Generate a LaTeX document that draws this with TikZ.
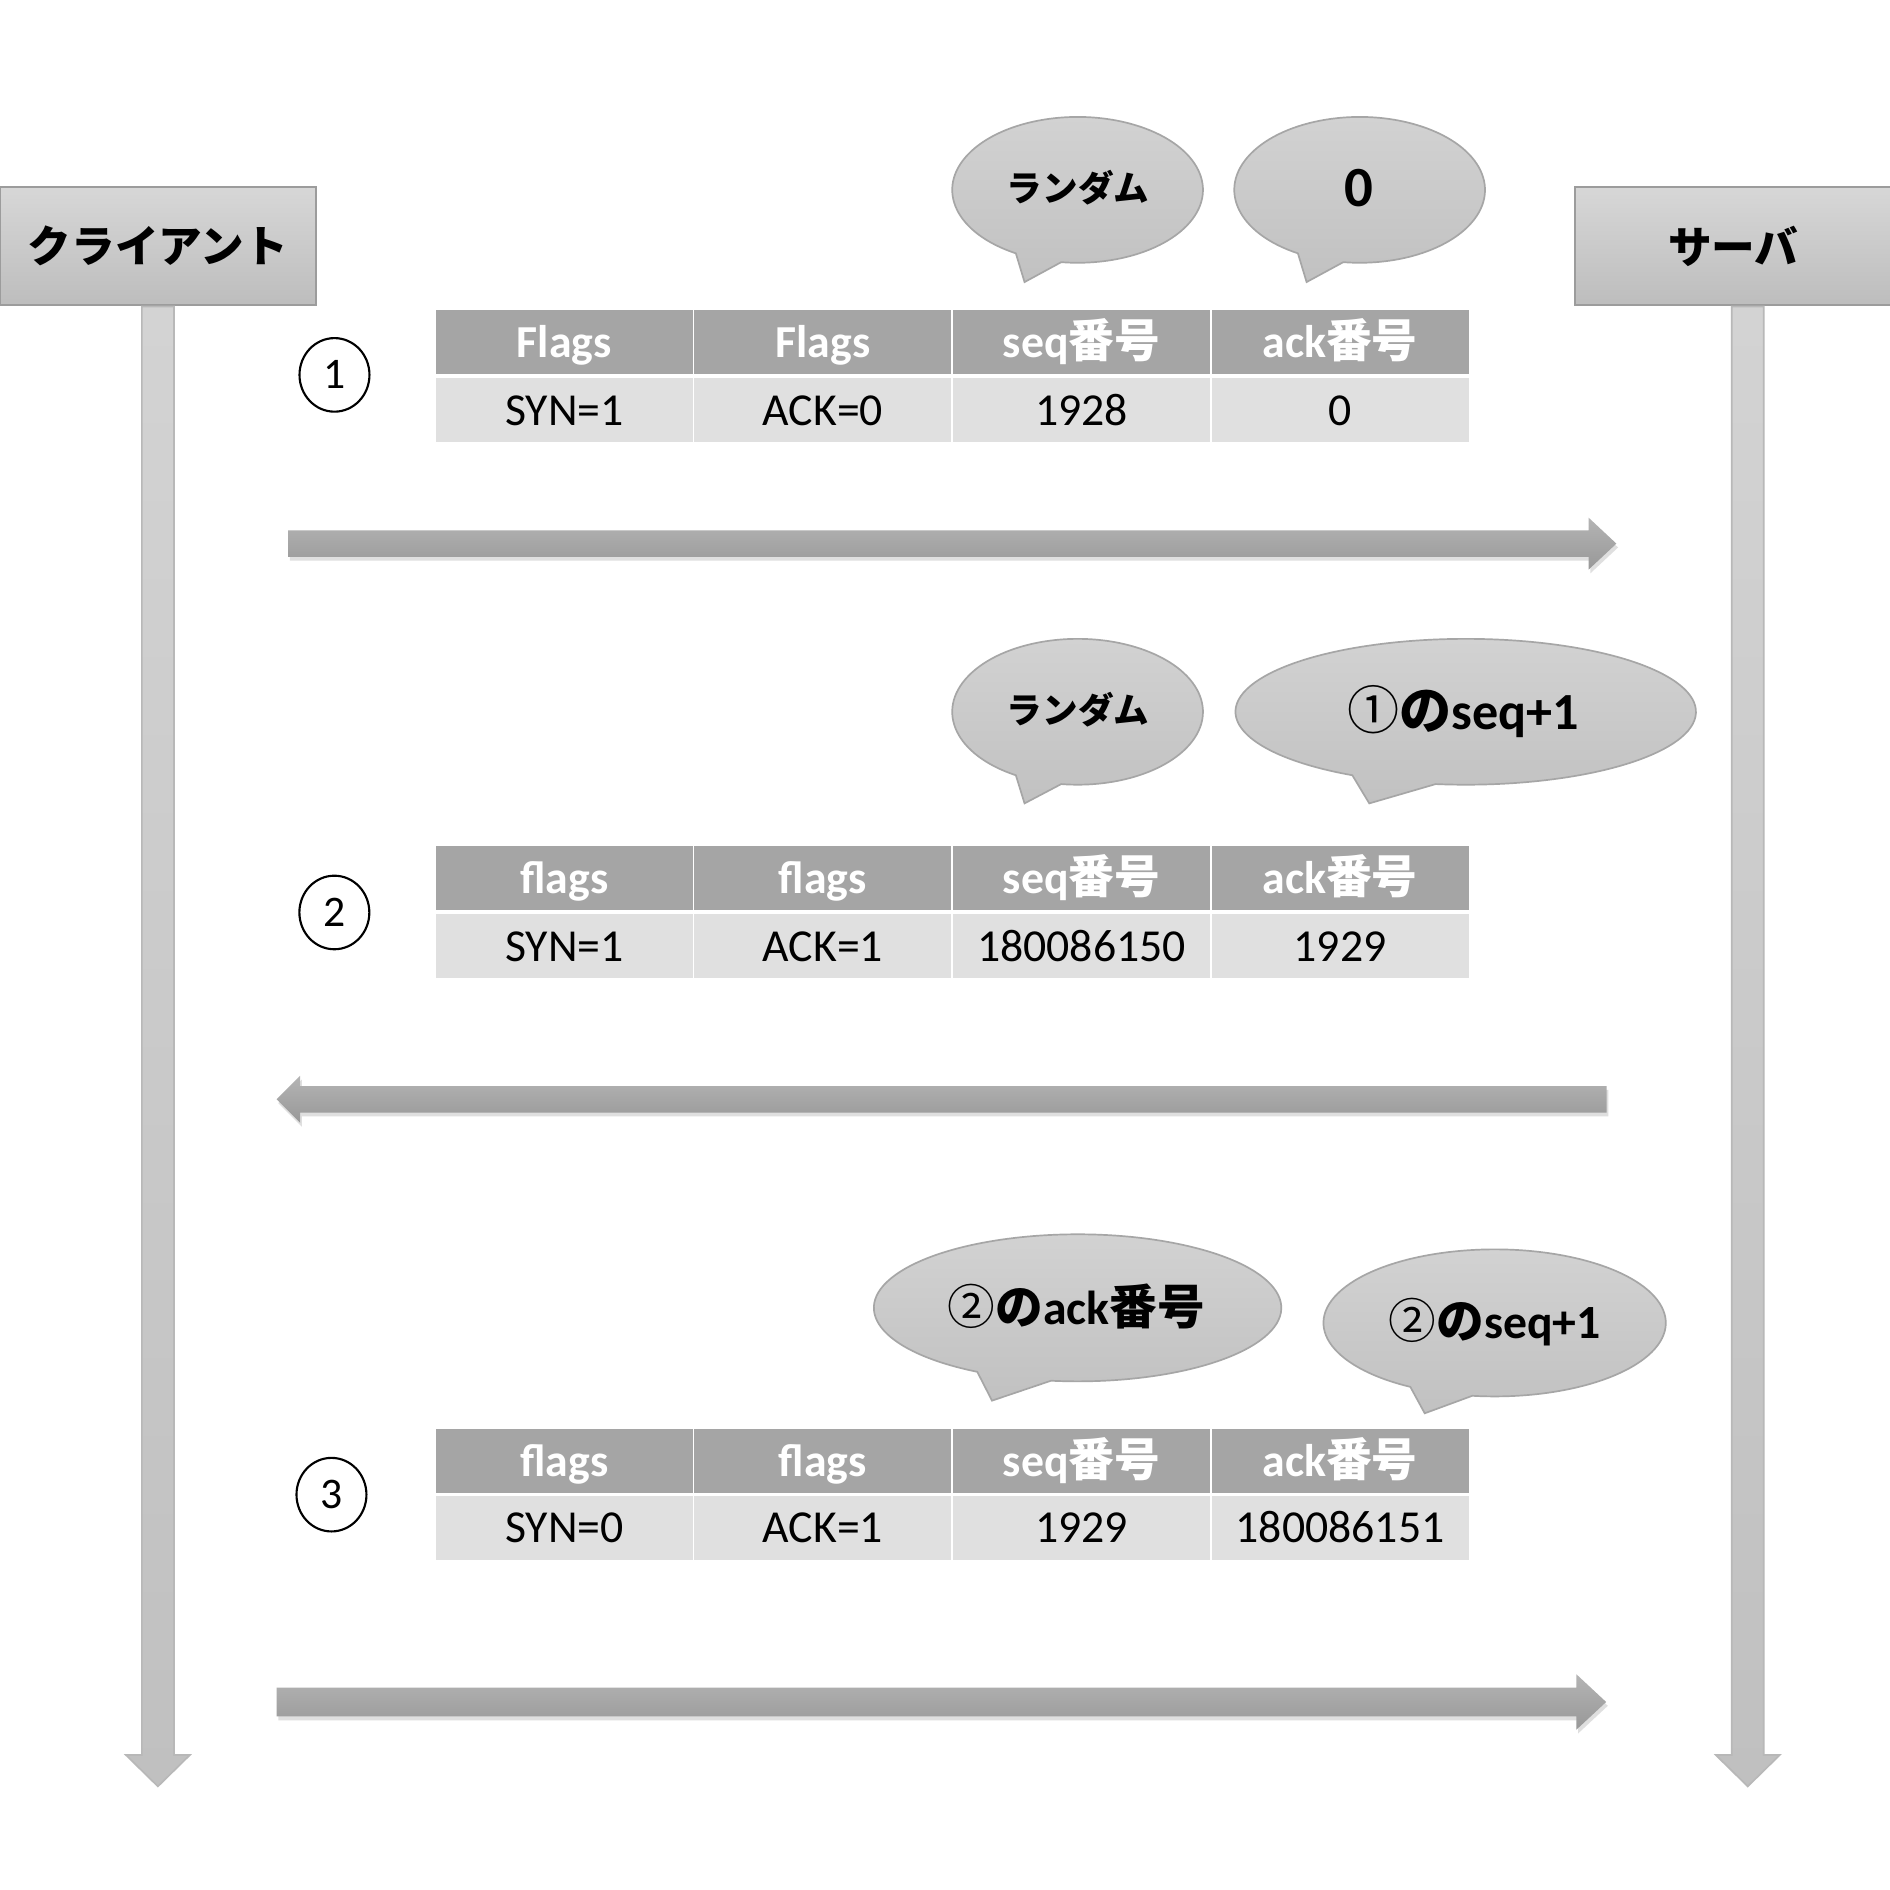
\documentclass[tikz,border=0pt]{standalone}
\usepackage{fontspec}
\setmainfont{Carlito}
\newfontfamily\jp{Noto Sans CJK JP}
\usetikzlibrary{calc,shadows,shapes.geometric}
\definecolor{hdr}{HTML}{A5A5A5}
\definecolor{dat}{HTML}{E0E0E0}
\definecolor{bubT}{HTML}{D3D3D3}
\definecolor{bubB}{HTML}{C1C1C1}
\definecolor{bubE}{HTML}{A6A6A6}
\definecolor{boxT}{HTML}{D7D7D7}
\definecolor{boxB}{HTML}{BDBDBD}
\definecolor{boxE}{HTML}{9C9C9C}
\definecolor{lifT}{HTML}{D3D3D3}
\definecolor{lifB}{HTML}{C0C0C0}
\definecolor{lifE}{HTML}{B8B8B8}
\definecolor{arT}{HTML}{B4B4B4}
\definecolor{arB}{HTML}{989898}
\tikzset{
  actor/.style={draw=boxE, line width=0.5pt, top color=boxT, bottom color=boxB,
    minimum width=2.62cm, minimum height=0.979cm, inner sep=0pt,
    font=\jp\bfseries\fontsize{10.3pt}{12pt}\selectfont},
  life/.style={draw=lifE, line width=0.4pt, top color=lifT, bottom color=lifB},
  msg/.style={draw=none, top color=arT, bottom color=arB,
    drop shadow={shadow xshift=0.4pt, shadow yshift=-0.9pt, opacity=0.25}},
  hcell/.style={fill=hdr, text=white, inner sep=0pt, minimum width=2.13cm,
    minimum height=0.531cm, text height=0.26cm, text depth=0pt,
    font=\bfseries\fontsize{10.8pt}{13pt}\selectfont},
  dcell/.style={fill=dat, text=black, inner sep=0pt, minimum width=2.13cm,
    minimum height=0.525cm, text height=0.25cm, text depth=0pt,
    font=\fontsize{10.8pt}{13pt}\selectfont},
  bub/.style={draw=bubE, line width=0.4pt, top color=bubT, bottom color=bubB},
  btext/.style={inner sep=0pt, font=\bfseries\fontsize{#1pt}{#1pt}\selectfont},
  stepno/.style={draw=black, line width=0.5pt, ellipse, minimum width=0.58cm,
    minimum height=0.61cm, inner sep=0pt, font=\fontsize{10.3pt}{12pt}\selectfont},
}
\newcommand\circnum[1]{{\jp\mdseries #1}}
% block arrow: #1 from, #2 to (tip), #3 dir, #4 half shaft, #5 head length, #6 half head
\newcommand\blockarrow[6]{%
  \path[msg] ($(#1)+(0,-#4)$) -- ($(#2)+({-(#3)*(#5)},-#4)$) -- ($(#2)+({-(#3)*(#5)},-#6)$)
    -- (#2) -- ($(#2)+({-(#3)*(#5)},#6)$) -- ($(#2)+({-(#3)*(#5)},#4)$) -- ($(#1)+(0,#4)$) -- cycle;}
% speech bubble: #1 centre coordinate, #2 rx, #3 ry, #4 tip offset
\newcommand\bubble[4]{%
  \path[bub] ($(#1)+({#2*cos(119.5)},{#3*sin(119.5)})$)
    arc[start angle=119.5, end angle=457.5, x radius=#2, y radius=#3]
    -- ($(#1)+#4$) -- cycle;}
% packet table
\newcommand\pkt[8]{%
  \node[hcell] (#1h1) at (468.2,#2) {#4};
  \node[hcell] (#1h2) at (682.7,#2) {#4};
  \node[hcell] (#1h3) at (897.3,#2) {seq{\jp 番号}};
  \node[hcell] (#1h4) at (1111.8,#2) {ack{\jp 番号}};
  \node[dcell] (#1d1) at (468.2,#3) {#5};
  \node[dcell] (#1d2) at (682.7,#3) {#6};
  \node[dcell] (#1d3) at (897.3,#3) {#7};
  \node[dcell] (#1d4) at (1111.8,#3) {#8};}
\begin{document}
\begin{tikzpicture}[x=0.01cm, y=-0.01cm]
\useasboundingbox (0,0) rectangle (1568,1568);
\fill[white] (0,0) rectangle (1568,1568);

% actors
\node[actor] (client) at (131,204.35) {クライアント};
\node[actor] (server) at (1438,204.35) {サーバ};

% lifelines
\coordinate (clTop) at (client.south);
\coordinate (clEnd) at (131,1482);
\coordinate (svTop) at ($(server.south)+(12,0)$);
\coordinate (svEnd) at (1450,1482);
\path[life] ($(clTop)+(-13.3,0)$) -- ($(clEnd)+(-13.3,-26)$) -- ($(clEnd)+(-26.5,-26)$) -- (clEnd)
  -- ($(clEnd)+(26.5,-26)$) -- ($(clEnd)+(13.3,-26)$) -- ($(clTop)+(13.3,0)$) -- cycle;
\path[life] ($(svTop)+(-13.3,0)$) -- ($(svEnd)+(-13.3,-26)$) -- ($(svEnd)+(-26.5,-26)$) -- (svEnd)
  -- ($(svEnd)+(26.5,-26)$) -- ($(svEnd)+(13.3,-26)$) -- ($(svTop)+(13.3,0)$) -- cycle;

% step numbers
\node[stepno] (n1) at (277.5,311) {1};
\node[stepno] (n2) at (277.4,757) {2};
\node[stepno] (n3) at (275,1240) {3};

% tables
\pkt{t1}{283.75}{340.15}{Flags}{SYN=1}{ACK=0}{1928}{0}
\pkt{t2}{728.4}{784.75}{flags}{SYN=1}{ACK=1}{180086150}{1929}
\pkt{t3}{1211.75}{1267.55}{flags}{SYN=0}{ACK=1}{1929}{180086151}

% bubbles
\coordinate (b1c) at (894,157.5);
\coordinate (b2c) at (1128,157.5);
\coordinate (b3c) at (894,590.5);
\coordinate (b4c) at (1216,590.5);
\coordinate (b5c) at (894,1085);
\coordinate (b6c) at (1240,1097.5);
\bubble{b1c}{104}{60.5}{(-44,76.5)}
\bubble{b2c}{104}{60.5}{(-44,76.5)}
\bubble{b3c}{104}{60.5}{(-44,76)}
\bubble{b4c}{191}{60.5}{(-80,76)}
\bubble{b5c}{169}{61}{(-71,77)}
\bubble{b6c}{142}{61}{(-58,75)}
\node[btext=8.4] (b1) at (894.5,156) {\jp ランダム};
\node[btext=13.4] (b2) at (1127,156) {0};
\node[btext=8.4] (b3) at (894.5,589) {\jp ランダム};
\node[btext=12.3] (b4) at (1214,590) {\circnum{①}{\jp の}seq+1};
\node[btext=11.25] (b5) at (893,1084) {\circnum{②}{\jp の}ack{\jp 番号}};
\node[btext=11.25] (b6) at (1240,1097) {\circnum{②}{\jp の}seq+1};

% messages
\coordinate (m1s) at (239,451);
\coordinate (m1e) at (1341,451);
\coordinate (m2s) at (1333,912);
\coordinate (m2e) at (229.5,912);
\coordinate (m3s) at (229.5,1412);
\coordinate (m3e) at (1332.5,1412);
\blockarrow{m1s}{m1e}{1}{11}{23}{21.5}
\blockarrow{m2s}{m2e}{-1}{11}{19.5}{19.5}
\blockarrow{m3s}{m3e}{1}{12}{24.7}{23}
\end{tikzpicture}
\end{document}
